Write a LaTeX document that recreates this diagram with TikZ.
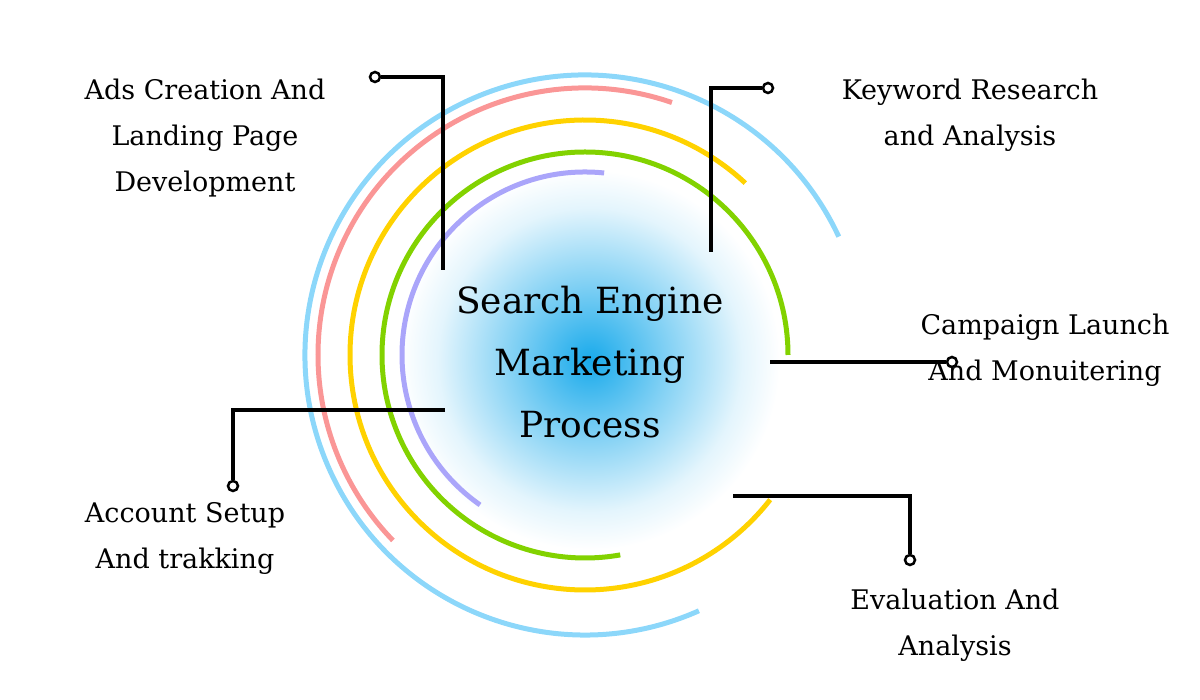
\documentclass[tikz,border=0pt]{standalone}
\usepackage{fontspec}
\setmainfont{DejaVu Serif}
\usetikzlibrary{positioning}
\definecolor{ringblue}{RGB}{140,215,250}
\definecolor{ringpink}{RGB}{250,150,150}
\definecolor{ringyellow}{RGB}{255,210,0}
\definecolor{ringgreen}{RGB}{130,210,0}
\definecolor{ringpurple}{RGB}{170,165,250}
\definecolor{glow}{RGB}{25,170,235}
\pgfdeclareradialshading{glowshade}{\pgfpoint{0bp}{0bp}}{%
  color(0bp)=(glow); color(10bp)=(glow!55); color(20bp)=(glow!12); color(25bp)=(white); color(50bp)=(white)}
\tikzset{
  ring/.style={line width=5pt},
  lead/.style={line width=3.5pt,black},
  dot/.style={draw,circle,line width=2.5pt,fill=white,minimum size=10pt,inner sep=0pt},
  label/.style={align=center,font=\fontsize{27}{46}\selectfont}
}
\begin{document}
\begin{tikzpicture}[x=1pt,y=1pt]
  \useasboundingbox (0,0) rectangle (1200,700);
  % centre glow
  \shade[shading=glowshade] (590,340) circle (190);
  \coordinate (c) at (585,345);
  % rings
  \draw[ring,ringblue] (c) ++(25:280) arc[start angle=25,end angle=294,radius=280];
  \draw[ring,ringpink] (c) ++(71:267) arc[start angle=71,end angle=224,radius=267];
  \draw[ring,ringyellow] (c) ++(47:235) arc[start angle=47,end angle=322,radius=235];
  \draw[ring,ringgreen] (c) ++(0:203) arc[start angle=0,end angle=280,radius=203];
  \draw[ring,ringpurple] (c) ++(84:183) arc[start angle=84,end angle=235,radius=183];
  % title
  \node[align=center,font=\fontsize{36}{62}\selectfont] (title) at (590,338) {Search Engine\\Marketing\\Process};
  % leads
  \node[dot] (adsdot) at (375,623) {};
  \coordinate (adsend) at (443,430);
  \draw[lead] (adsdot) -| (adsend);
  \node[dot] (kwdot) at (768,612) {};
  \coordinate (kwend) at (711,448);
  \draw[lead] (kwdot) -| (kwend);
  \node[dot] (cldot) at (952,338) {};
  \coordinate (clend) at (770,338);
  \draw[lead] (clend) -- (cldot);
  \node[dot] (acdot) at (233,214) {};
  \coordinate (acend) at (445,290);
  \draw[lead] (acend) -| (acdot);
  \node[dot] (evdot) at (910,140) {};
  \coordinate (evend) at (733,204);
  \draw[lead] (evend) -| (evdot);
  % labels
  \node[label] (ads) at (205,562) {Ads Creation And\\Landing Page\\Development};
  \node[label] (kw) at (970,585) {Keyword Research\\and Analysis};
  \node[label] (cl) at (1045,350) {Campaign Launch\\And Monuitering};
  \node[label] (ac) at (185,162) {Account Setup\\And trakking};
  \node[label] (ev) at (955,75) {Evaluation And\\Analysis};
\end{tikzpicture}
\end{document}
